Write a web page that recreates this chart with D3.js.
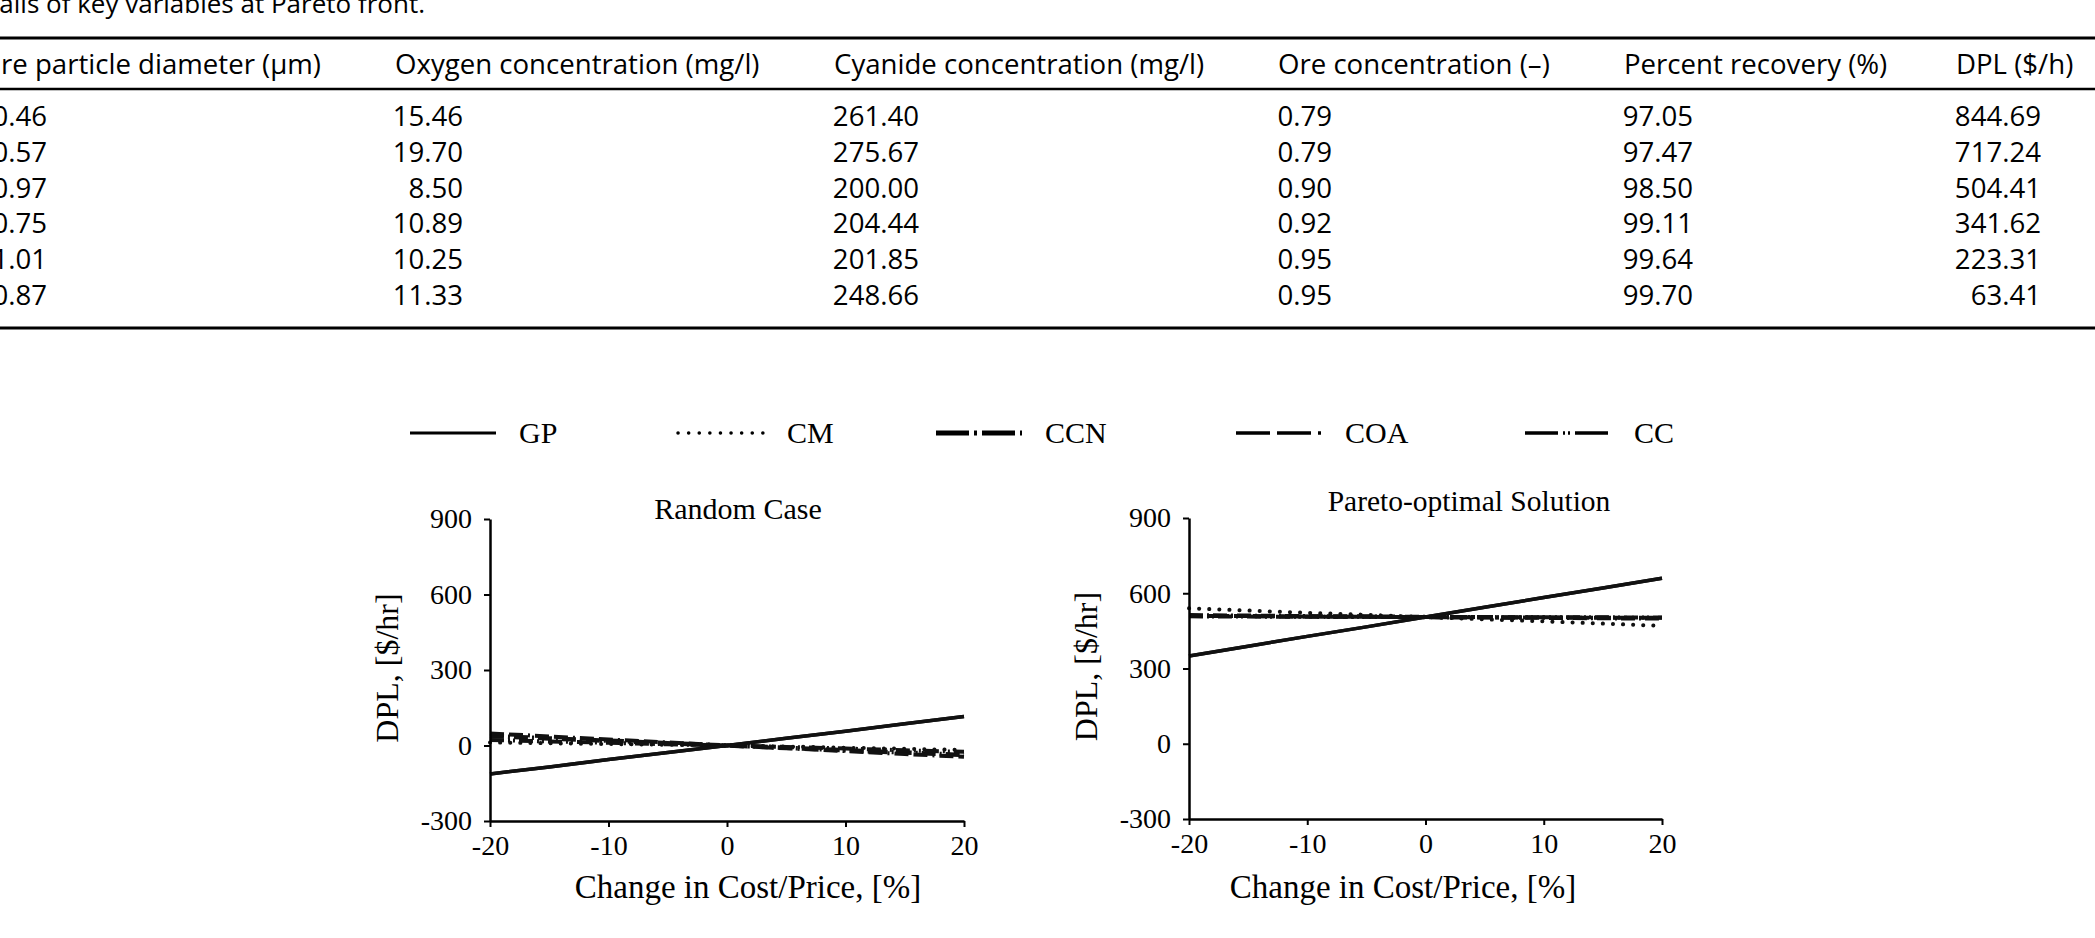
<!DOCTYPE html>
<html>
<head>
<meta charset="utf-8">
<script src="https://cdn.jsdelivr.net/npm/d3@7"></script>
<style>
  body { margin: 0; background: #fff; }
  svg { display: block; }
</style>
</head>
<body>
<div id="output"></div>
<script>
// table values
const headers = ["Ore particle diameter (\u03bcm)", "Oxygen concentration (mg/l)", "Cyanide concentration (mg/l)",
    "Ore concentration (\u2013)", "Percent recovery (%)", "DPL ($/h)"];
const diameter = [0.46, 0.57, 0.97, 0.75, 1.01, 0.87];
const oxygen = [15.46, 19.70, 8.50, 10.89, 10.25, 11.33];
const cyanide = [261.40, 275.67, 200.00, 204.44, 201.85, 248.66];
const oreConc = [0.79, 0.79, 0.90, 0.92, 0.95, 0.95];
const recovery = [97.05, 97.47, 98.50, 99.11, 99.64, 99.70];
const dplTable = [844.69, 717.24, 504.41, 341.62, 223.31, 63.41];

// chart values
const change = [-20, -15, -10, -5, 0, 5, 10, 15, 20];
const gpRandom = [-113, -85, -56, -28, 0, 29, 57, 86, 115];
const cmRandom = [12, 9, 6, 3, 0, -4, -9, -13, -18];
const ccnRandom = [38, 28, 19, 9, 0, -9, -19, -28, -38];
const coaRandom = [48, 36, 24, 12, 0, -11, -22, -34, -45];
const ccRandom = [22, 16, 11, 5, 0, -6, -12, -19, -25];
const gpPareto = [350, 389, 428, 466, 505, 544, 583, 621, 660];
const cmPareto = [540, 531, 522, 514, 505, 496, 488, 479, 470];
const ccnPareto = [512, 510, 508, 507, 505, 504, 503, 501, 500];
const coaPareto = [510, 509, 507, 506, 505, 504, 503, 502, 502];
const ccPareto = [508, 507, 506, 506, 505, 505, 504, 504, 503];
const seriesNames = ["GP", "CM", "CCN", "COA", "CC"];
const yTicks = [-300, 0, 300, 600, 900];
const xTicks = [-20, -10, 0, 10, 20];

// plot dash patterns, and the longer ones the legend shows
const styles = {
    GP: { dash: null, legend: null, width: 3.5, cap: "butt" },
    CM: { dash: "0.1 10", legend: "0.1 10.5", width: 4, cap: "round" },
    CCN: { dash: "14 4 2 4", legend: "33 5 3 5", width: 4.5, cap: "butt" },
    COA: { dash: "14 5 14 5 2 5", legend: "34 7 34 7 3 12", width: 4, cap: "butt" },
    CC: { dash: "14 4 2 3 2 4", legend: "33 5 2 3 2 5", width: 4, cap: "butt" }
};

const W = 2095, H = 938;
const svg = d3.select("#output").append("svg").attr("width", W).attr("height", H);
svg.append("rect").attr("width", W).attr("height", H).style("fill", "white");

// ---- table ----
const sans = "'Open Sans', 'Noto Sans', sans-serif";
const tableFont = "27.6px";
const columns = [diameter, oxygen, cyanide, oreConc, recovery, dplTable];
const headX = [321, 395, 834, 1278, 1624, 1956];
const numRight = [47, 463, 919, 1332, 1693, 2041];
const rowY = d3.scaleLinear().domain([0, 5]).range([126, 305]);
const fmt = d3.format(".2f");

svg.append("text")
    .style("font-family", sans).style("font-size", "26px")
    .style("text-anchor", "end")
    .attr("x", 425).attr("y", 13)
    .text("Details of key variables at Pareto front.");

for (let ry of [38, 89, 328]) {
    svg.append("line")
        .attr("x1", 0).attr("x2", W).attr("y1", ry).attr("y2", ry)
        .style("stroke", "black").style("stroke-width", ry === 89 ? 2.5 : 3);
}

let tg = svg.append("g");
headers.forEach((hd, i) => {
    tg.append("text")
        .style("font-family", sans).style("font-size", tableFont)
        .style("text-anchor", i === 0 ? "end" : "start")
        .attr("x", headX[i]).attr("y", 74)
        .text(hd);
    columns[i].forEach((v, j) => {
        tg.append("text")
            .style("font-family", sans).style("font-size", tableFont)
            .style("text-anchor", "end")
            .attr("x", numRight[i]).attr("y", rowY(j))
            .text(fmt(v));
    });
});

// ---- legend ----
const serif = "'Liberation Serif', 'Times New Roman', serif";
const legendX = [410, 678, 936, 1236, 1525];
const legendLen = 86;
seriesNames.forEach((name, i) => {
    let s = styles[name];
    svg.append("line")
        .attr("x1", legendX[i]).attr("x2", legendX[i] + legendLen)
        .attr("y1", 433).attr("y2", 433)
        .style("stroke", "black").style("stroke-width", name === "CCN" ? 5 : s.width - 0.5)
        .style("stroke-dasharray", s.legend).style("stroke-linecap", s.cap);
    svg.append("text")
        .style("font-family", serif).style("font-size", "30px")
        .attr("x", legendX[i] + legendLen + 23).attr("y", 443)
        .text(name);
});

// ---- charts ----
function drawChart(opts) {
    const x = d3.scaleLinear().domain([-20, 20]).range([opts.left, opts.right]);
    const y = d3.scaleLinear().domain([-300, 900]).range([opts.bottom, opts.top]);
    let g = svg.append("g");

    const line = d3.line().x((d, i) => x(change[i])).y(d => y(d));
    opts.series.forEach((vals, k) => {
        let s = styles[seriesNames[k]];
        g.append("path")
            .datum(vals)
            .attr("d", line)
            .style("fill", "none").style("stroke", "#111")
            .style("stroke-width", s.width)
            .style("stroke-dasharray", s.dash)
            .style("stroke-linecap", s.cap);
    });
    // draw GP last so it stays on top
    g.append("path").datum(opts.series[0]).attr("d", line)
        .style("fill", "none").style("stroke", "#111").style("stroke-width", styles.GP.width);

    const plain = d => String(d);
    let xa = g.append("g").attr("transform", `translate(0,${opts.bottom})`)
        .call(d3.axisBottom(x).tickValues(xTicks).tickFormat(plain).tickSize(6).tickSizeOuter(0).tickPadding(8));
    let ya = g.append("g").attr("transform", `translate(${opts.left},0)`)
        .call(d3.axisLeft(y).tickValues(yTicks).tickFormat(plain).tickSize(6).tickSizeOuter(0).tickPadding(12));
    for (let a of [xa, ya]) {
        a.select(".domain").style("stroke", "black").style("stroke-width", 2.5);
        a.selectAll(".tick line").style("stroke", "black").style("stroke-width", 2);
        a.selectAll(".tick text")
            .style("font-family", serif).style("font-size", "28px").style("fill", "black");
    }

    g.append("text")
        .style("font-family", serif).style("font-size", opts.titleSize)
        .style("text-anchor", "middle")
        .attr("x", opts.titleX).attr("y", opts.titleY)
        .text(opts.title);

    g.append("text")
        .style("font-family", serif).style("font-size", "33px")
        .style("text-anchor", "middle")
        .attr("x", opts.labelX).attr("y", 898)
        .text("Change in Cost/Price, [%]");

    g.append("text")
        .style("font-family", serif).style("font-size", "32px")
        .style("text-anchor", "middle")
        .attr("transform", `translate(${opts.left - 92},${(opts.top + opts.bottom) / 2 - 2}) rotate(-90)`)
        .text("DPL, [$/hr]");
}

drawChart({
    left: 490, right: 964, top: 519, bottom: 821,
    title: "Random Case", titleX: 738, titleY: 519, titleSize: "30px", labelX: 748,
    series: [gpRandom, cmRandom, ccnRandom, coaRandom, ccRandom]
});
drawChart({
    left: 1189, right: 1662, top: 518, bottom: 819,
    title: "Pareto-optimal Solution", titleX: 1469, titleY: 511, titleSize: "29.5px", labelX: 1403,
    series: [gpPareto, cmPareto, ccnPareto, coaPareto, ccPareto]
});
</script>
</body>
</html>
